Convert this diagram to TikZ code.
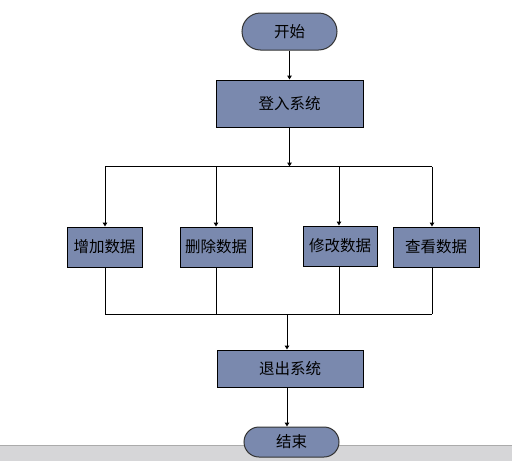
\documentclass[tikz,border=0pt]{standalone}
\usepackage{fontspec}
\setmainfont{Noto Sans CJK SC}
\usetikzlibrary{arrows.meta,shapes.misc}
\definecolor{boxfill}{HTML}{7A89AE}
\definecolor{bandgrey}{HTML}{D6D6D8}
\definecolor{bandline}{HTML}{ABABAB}
\tikzset{
  procbox/.style={draw=black, line width=1pt, fill=boxfill, inner sep=0pt, font=\fontsize{15.5}{17}\selectfont},
  termbox/.style={draw=black!80, line width=1pt, fill=boxfill, rounded rectangle, inner sep=0pt, font=\fontsize{15.5}{17}\selectfont},
  conn/.style={draw=black, line width=1pt},
  arr/.style={conn, -{Triangle[length=4pt,width=4.5pt]}}
}
\begin{document}
\begin{tikzpicture}[x=1pt,y=-1pt]
\useasboundingbox (0,0) rectangle (512,461);
\fill[bandgrey] (0,445) rectangle (512,461);
\draw[bandline, line width=1pt] (0,445) -- (512,445);

\node[termbox, minimum width=95pt, minimum height=37pt] (start) at (289.5,31.5) {开始};
\node[procbox, minimum width=147pt, minimum height=47pt] (login) at (289.5,103.5) {登入系统};
\node[procbox, minimum width=75pt, minimum height=40pt] (add) at (104.5,247) {增加数据};
\node[procbox, minimum width=72pt, minimum height=40pt] (del) at (216,247) {删除数据};
\node[procbox, minimum width=74pt, minimum height=40pt] (mod) at (340,246) {修改数据};
\node[procbox, minimum width=86pt, minimum height=40pt] (view) at (436,247) {查看数据};
\node[procbox, minimum width=146pt, minimum height=37pt] (quit) at (290,368.5) {退出系统};
\node[termbox, minimum width=95pt, minimum height=30pt] (end) at (291.5,442) {结束};

\coordinate (jtop) at (289.5,166.5);
\coordinate (t1) at (105,166.5);
\coordinate (t2) at (216,166.5);
\coordinate (t3) at (339,166.5);
\coordinate (t4) at (432,166.5);
\coordinate (b1) at (105,314);
\coordinate (b2) at (216,314);
\coordinate (b3) at (339,314);
\coordinate (b4) at (432,314);
\coordinate (jbot) at (287,314);

\draw[arr] (start) -- (login);
\draw[arr] (login.south) -- (jtop);
\draw[conn] (t1) -- (t4);
\draw[arr] (t1) -- (add.north -| t1);
\draw[arr] (t2) -- (del.north -| t2);
\draw[arr] (t3) -- (mod.north -| t3);
\draw[arr] (t4) -- (view.north -| t4);
\draw[conn] (add.south -| b1) -- (b1);
\draw[conn] (del.south -| b2) -- (b2);
\draw[conn] (mod.south -| b3) -- (b3);
\draw[conn] (view.south -| b4) -- (b4);
\draw[conn] (b1) -- (b4);
\draw[arr] (jbot) -- (quit.north -| jbot);
\draw[arr] (quit.south -| jbot) -- (end.north -| jbot);
\end{tikzpicture}
\end{document}
